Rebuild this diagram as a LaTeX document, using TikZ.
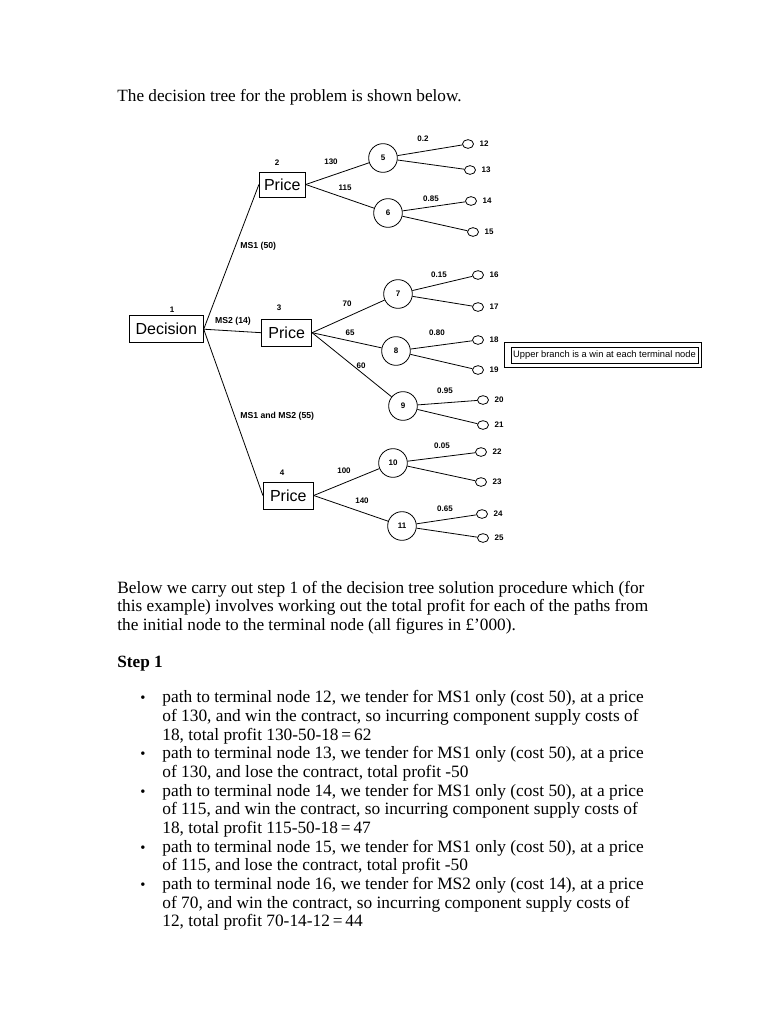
\documentclass[tikz,border=0pt]{standalone}
\usepackage{fontspec}
\setmainfont{Liberation Serif}
\setsansfont{Liberation Sans}
\usetikzlibrary{shapes.geometric,positioning}
\begin{document}
\begin{tikzpicture}
        [
            x=0.75pt,
            y=-0.75pt,
            line width=0.6pt,
            box/.style={rectangle, draw, inner sep=0pt, minimum width=37.5pt, minimum height=20.25pt, font=\sffamily\fontsize{12}{14}\selectfont},
            chance/.style={circle, draw, inner sep=0pt, minimum size=21.5pt, font=\sffamily\bfseries\fontsize{6}{7}\selectfont},
            leaf/.style={ellipse, draw, inner sep=0pt, minimum width=8.25pt, minimum height=6.5pt},
            tag/.style={inner sep=0pt, font=\sffamily\bfseries\fontsize{6}{7}\selectfont},
            textline/.style={anchor=base west, inner sep=0pt, font=\fontsize{12.9}{14}\selectfont}
        ]
        \fill[white] (0,0) rectangle (768,1024);
        \useasboundingbox (0,0) rectangle (768,1024);

        \node[textline] (intro) at (117,101) {The decision tree for the problem is shown below.};

        \node[box, minimum width=55.5pt] (dec) at (166.3,329.2) {Decision};
        \node[box, minimum width=34.5pt, minimum height=18.75pt] (p2) at (282.3,184.5) {Price};
        \node[box] (p3) at (286.7,332.7) {Price};
        \node[box] (p4) at (288.3,495.5) {Price};
        \node[tag] (n1) at (172,310) {1};
        \node[tag] (n2) at (277,163) {2};
        \node[tag] (n3) at (279,308) {3};
        \node[tag] (n4) at (282,473) {4};

        \foreach \n/\x/\y in {5/383/158, 6/388/213, 7/398/294, 8/396/351, 9/403/406, 10/393/463, 11/402/526}
            \node[chance] (c\n) at (\x,\y) {\n};

        \foreach \n/\x/\y in {12/468/144, 13/470/170, 14/471/201, 15/473/232, 16/478/275, 17/478/307, 18/478/340, 19/478/370, 20/483/400, 21/483/425, 22/481/452, 23/481/482, 24/482/514, 25/483/538}
        {
            \node[leaf] (t\n) at (\x,\y) {};
            \node[tag, right=4pt of t\n] (l\n) {\n};
        }

        \path (dec.east) edge (p2.west)
        (dec.east) edge (p3.west)
        (dec.east) edge (p4.west)
        (p2.east) edge (c5) (p2.east) edge (c6)
        (p3.east) edge (c7) (p3.east) edge (c8) (p3.east) edge (c9)
        (p4.east) edge (c10) (p4.east) edge (c11);
        \foreach \c/\u/\d in {5/12/13, 6/14/15, 7/16/17, 8/18/19, 9/20/21, 10/22/23, 11/24/25}
            \path (c\c) edge (t\u) (c\c) edge (t\d);

        \node[tag, anchor=west, font=\sffamily\bfseries\fontsize{6.5}{7}\selectfont] (ms1) at (240,246) {MS1 (50)};
        \node[tag, font=\sffamily\bfseries\fontsize{6.5}{7}\selectfont] (ms2) at (233,321) {MS2 (14)};
        \node[tag, anchor=west, font=\sffamily\bfseries\fontsize{6.5}{7}\selectfont] (ms12) at (240,416) {MS1 and MS2 (55)};
        \foreach \t/\x/\y in {130/331/162, 115/345/188, 70/347/304, 65/350/333, 60/361/366, 100/344/471, 140/362/501}
            \node[tag] (bid\t) at (\x,\y) {\t};
        \foreach \t/\x/\y [count=\k] in {0.2/423/139, 0.85/431/199, 0.15/439/275, 0.80/437/333, 0.95/445/391, 0.05/442/446, 0.65/445/509}
            \node[tag] (prob\k) at (\x,\y) {\t};

        \node[draw, line width=0.5pt, inner sep=0pt, minimum width=140pt, minimum height=12pt, font=\sffamily\fontsize{7}{8}\selectfont] (note) at (604.5,355) {Upper branch is a win at each terminal node};
        \draw[line width=0.6pt] ([shift={(-6,4.5)}]note.south west) rectangle ([shift={(3.5,-4)}]note.north east);

        \foreach \t [count=\i from 0] in {{Below we carry out step 1 of the decision tree solution procedure which (for}, {this example) involves working out the total profit for each of the paths from}, {the initial node to the terminal node (all figures in £'000).}}
            \node[textline, font=\fontsize{12.95}{14}\selectfont] (para\i) at (117,593.3+18.67*\i) {\t};

        \node[textline, font=\bfseries\fontsize{12.9}{14}\selectfont] (step) at (117,667.3) {Step 1};

        \foreach \t [count=\i from 0] in {{path to terminal node 12, we tender for MS1 only (cost 50), at a price}, {of 130, and win the contract, so incurring component supply costs of}, {18, total profit 130-50-18\,=\,62}, {path to terminal node 13, we tender for MS1 only (cost 50), at a price}, {of 130, and lose the contract, total profit -50}, {path to terminal node 14, we tender for MS1 only (cost 50), at a price}, {of 115, and win the contract, so incurring component supply costs of}, {18, total profit 115-50-18\,=\,47}, {path to terminal node 15, we tender for MS1 only (cost 50), at a price}, {of 115, and lose the contract, total profit -50}, {path to terminal node 16, we tender for MS2 only (cost 14), at a price}, {of 70, and win the contract, so incurring component supply costs of}, {12, total profit 70-14-12\,=\,44}}
            \node[textline, font=\fontsize{13}{14}\selectfont] (item\i) at (162,702.7+18.67*\i) {\t};
        \foreach \i in {0,3,5,8,10}
            \node[textline, font=\fontsize{11}{14}\selectfont] (dot\i) at (140,702.7+18.67*\i) {•};
    \end{tikzpicture}
\end{document}
